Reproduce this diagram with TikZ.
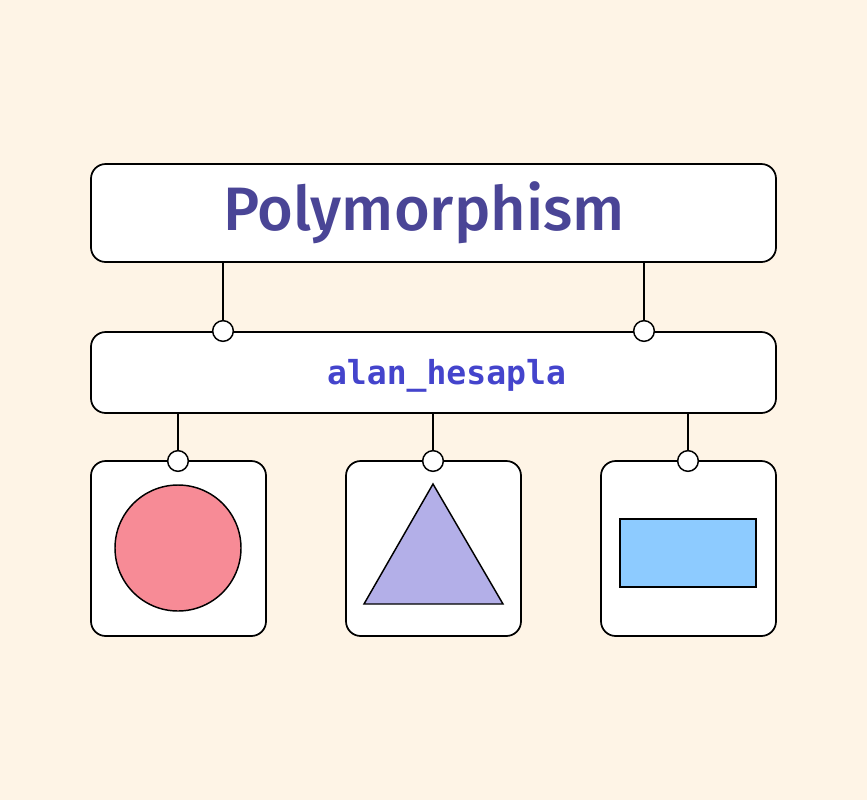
\documentclass[tikz,border=0pt]{standalone}
\usepackage{fontspec}
\newfontfamily\titlefont{Fira Sans Medium}
\newfontfamily\codefont{DejaVu Sans Mono}[BoldFont={DejaVu Sans Mono Bold}]
\definecolor{bg}{HTML}{FEF4E6}
\definecolor{titlecol}{HTML}{4A4596}
\definecolor{codecol}{HTML}{4444CC}
\definecolor{redfill}{HTML}{F78B96}
\definecolor{purplefill}{HTML}{B3AFE8}
\definecolor{bluefill}{HTML}{8DCBFF}
\begin{document}
\begin{tikzpicture}[x=0.75pt,y=-0.75pt,
  box/.style={draw=black,fill=white,line width=1.3pt,rounded corners=11pt},
  port/.style={circle,draw=black,fill=white,line width=1.1pt,minimum size=15.5pt,inner sep=0pt},
  link/.style={draw=black,line width=1.1pt},
  shapeline/.style={draw=black,line width=1.1pt}]
\fill[bg] (0,0) rectangle (867,800);
\useasboundingbox (0,0) rectangle (867,800);
% boxes
\draw[box] (91,164) rectangle (776,262);
\coordinate (topb1) at (223,262);
\coordinate (topb2) at (644,262);
\node[text=titlecol,font=\titlefont\fontsize{46}{50}\selectfont] (title) at (424,213) {Polymorphism};
\draw[box] (91,332) rectangle (776,413);
\node[text=codecol,font=\codefont\bfseries\fontsize{24.8}{28}\selectfont] (code) at (446.5,376) {alan\_hesapla};
\coordinate (midb1) at (178,413);
\coordinate (midb2) at (433,413);
\coordinate (midb3) at (688,413);
\draw[box] (91,461) rectangle (266,636);
\draw[box] (346,461) rectangle (521,636);
\draw[box] (601,461) rectangle (776,636);
% ports
\node[port] (p1) at (223,331) {};
\node[port] (p2) at (644,331) {};
\node[port] (q1) at (178,461) {};
\node[port] (q2) at (433,461) {};
\node[port] (q3) at (688,461) {};
\draw[link] (topb1) -- (p1.north);
\draw[link] (topb2) -- (p2.north);
\draw[link] (midb1) -- (q1.north);
\draw[link] (midb2) -- (q2.north);
\draw[link] (midb3) -- (q3.north);
% shapes
\draw[shapeline,fill=redfill] (178,548) circle[radius=63];
\draw[shapeline,fill=purplefill,line join=miter] (433,484) -- (503,604) -- (364,604) -- cycle;
\draw[shapeline,fill=bluefill] (620,519) rectangle (756,587);
\end{tikzpicture}
\end{document}
